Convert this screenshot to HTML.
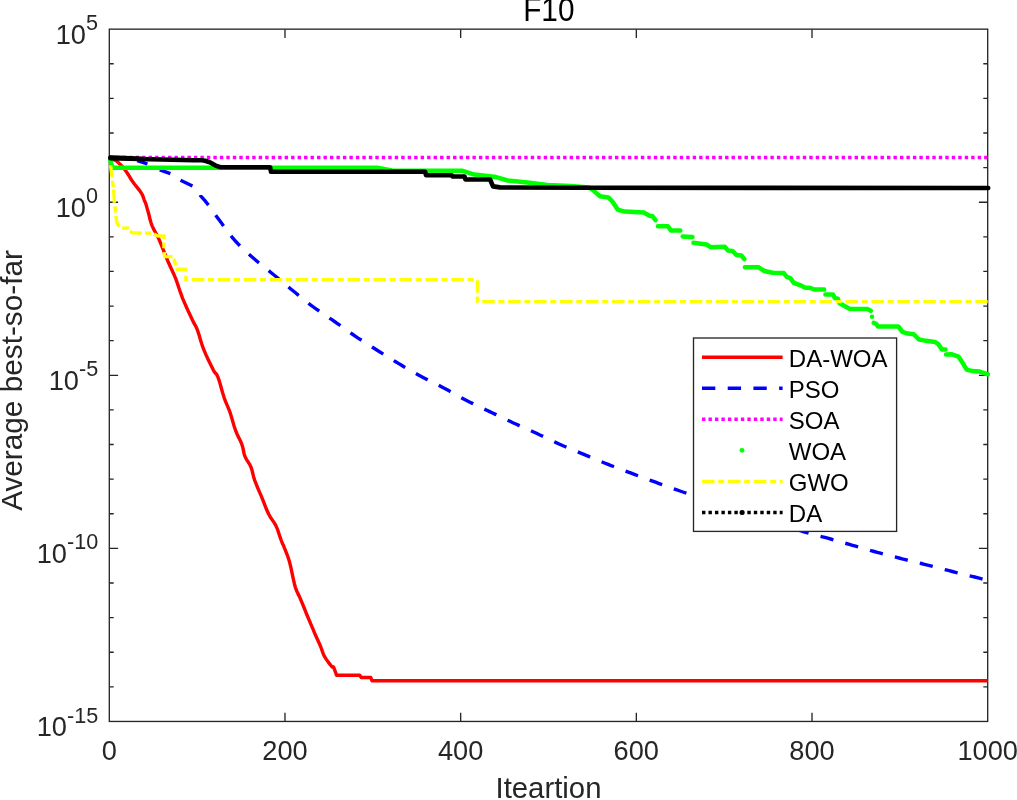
<!DOCTYPE html>
<html><head><meta charset="utf-8"><title>F10</title>
<style>html,body{margin:0;padding:0;background:#fff;}body{width:1017px;height:800px;position:relative;overflow:hidden;font-family:"Liberation Sans",sans-serif;}</style>
</head><body>
<svg width="1017" height="800" viewBox="0 0 1017 800" style="position:absolute;left:0;top:0">
<rect x="0" y="0" width="1017" height="800" fill="#fff"/>
<g stroke="#262626" stroke-width="1.33" fill="none">
<rect x="109.3" y="29.15" width="878.4000000000001" height="692.3000000000001"/>
<path d="M284.98 721.45v-8.8M284.98 29.15v8.8"/>
<path d="M460.66 721.45v-8.8M460.66 29.15v8.8"/>
<path d="M636.34 721.45v-8.8M636.34 29.15v8.8"/>
<path d="M812.02 721.45v-8.8M812.02 29.15v8.8"/>
<path d="M109.3 63.77h4.4M987.7 63.77h-4.4"/>
<path d="M109.3 98.38h4.4M987.7 98.38h-4.4"/>
<path d="M109.3 133.00h4.4M987.7 133.00h-4.4"/>
<path d="M109.3 167.61h4.4M987.7 167.61h-4.4"/>
<path d="M109.3 202.23h8.8M987.7 202.23h-8.8"/>
<path d="M109.3 236.84h4.4M987.7 236.84h-4.4"/>
<path d="M109.3 271.45h4.4M987.7 271.45h-4.4"/>
<path d="M109.3 306.07h4.4M987.7 306.07h-4.4"/>
<path d="M109.3 340.69h4.4M987.7 340.69h-4.4"/>
<path d="M109.3 375.30h8.8M987.7 375.30h-8.8"/>
<path d="M109.3 409.92h4.4M987.7 409.92h-4.4"/>
<path d="M109.3 444.53h4.4M987.7 444.53h-4.4"/>
<path d="M109.3 479.14h4.4M987.7 479.14h-4.4"/>
<path d="M109.3 513.76h4.4M987.7 513.76h-4.4"/>
<path d="M109.3 548.38h8.8M987.7 548.38h-8.8"/>
<path d="M109.3 582.99h4.4M987.7 582.99h-4.4"/>
<path d="M109.3 617.61h4.4M987.7 617.61h-4.4"/>
<path d="M109.3 652.22h4.4M987.7 652.22h-4.4"/>
<path d="M109.3 686.84h4.4M987.7 686.84h-4.4"/>
</g>
<g fill="none" stroke-linejoin="round">
<polyline points="109.2,157.5 109.9,157.8 110.8,158.2 111.9,158.7 113.0,159.3 114.0,159.8 115.1,160.2 116.3,160.9 117.7,162.0 119.5,163.7 121.5,165.7 123.5,168.1 125.5,170.5 127.2,173.0 128.9,175.7 130.6,178.5 132.4,181.3 134.6,184.3 137.1,187.4 139.5,190.4 141.3,193.0 142.5,195.1 143.2,196.9 143.7,198.5 144.2,200.0 144.7,201.3 145.2,202.3 145.7,203.4 146.2,205.0 146.8,207.1 147.5,209.7 148.3,212.3 149.0,215.0 149.6,217.5 150.2,220.1 151.0,222.7 152.0,225.6 153.4,228.6 155.1,231.8 157.0,235.2 159.0,239.3 161.1,244.3 163.3,249.9 165.6,255.7 167.8,261.0 169.9,265.7 171.9,270.0 173.8,274.2 175.7,278.7 177.4,283.4 179.0,288.2 180.7,293.2 182.6,298.3 185.0,303.9 187.6,309.8 190.2,315.3 192.4,320.0 194.0,323.1 195.1,325.2 196.2,327.1 197.4,330.0 198.8,334.1 200.2,338.9 201.8,344.1 203.6,349.2 205.9,354.6 208.5,360.2 211.1,365.5 213.2,369.8 214.7,372.3 215.8,373.5 216.8,374.7 218.0,377.2 219.5,381.6 221.0,387.0 222.6,392.7 224.2,397.8 225.7,401.8 227.2,405.4 228.7,408.9 230.1,412.6 231.4,416.8 232.7,421.3 234.0,425.8 235.4,430.0 237.0,433.9 238.8,437.7 240.6,441.3 242.0,444.7 242.9,447.9 243.5,450.9 244.1,453.7 245.0,456.5 246.3,459.1 247.9,461.6 249.5,464.1 250.9,466.9 251.9,469.9 252.7,473.0 253.5,476.4 254.6,480.1 256.2,484.2 258.1,488.8 260.1,493.4 262.0,497.8 263.7,502.1 265.3,506.3 266.9,510.3 268.6,514.0 270.4,517.2 272.4,520.1 274.3,522.9 276.0,525.9 277.5,529.4 278.8,533.2 280.0,536.9 281.1,540.0 282.0,542.3 282.7,544.0 283.5,545.6 284.3,547.7 285.4,550.4 286.6,553.3 287.8,556.5 288.8,559.5 289.6,562.3 290.3,565.1 291.0,568.0 291.7,571.3 292.5,575.1 293.4,579.4 294.4,583.7 295.4,587.5 296.6,590.7 297.8,593.4 299.2,596.1 300.6,599.3 302.2,603.2 304.0,607.5 305.7,611.8 307.2,615.5 308.5,618.6 309.6,621.2 310.6,623.6 311.6,625.9 312.4,627.8 313.1,629.4 313.8,631.1 314.7,633.3 316.0,636.3 317.6,639.8 319.2,643.3 320.6,646.5 321.6,649.1 322.4,651.5 323.2,653.7 324.3,656.1 326.0,658.9 328.1,661.9 330.2,664.6 331.7,666.5 332.5,667.2 332.9,667.0 333.2,666.7 333.6,667.2 334.3,668.9 335.2,671.3 336.0,673.7 336.6,675.3 359.7,675.3 361.2,677.5 370.8,677.5 372.0,680.8 987.7,680.8" stroke="#f00" stroke-width="3.4"/>
<clipPath id="cb"><rect x="196" y="0" width="900" height="800"/></clipPath>
<polyline clip-path="url(#cb)" points="109.2,157.5 110.2,157.5 111.4,157.6 113.0,157.6 114.7,157.7 116.5,157.8 118.3,157.9 120.2,158.0 122.0,158.2 123.8,158.4 125.7,158.7 127.7,158.9 129.8,159.2 131.8,159.6 133.7,159.9 135.5,160.3 137.2,160.6 138.7,160.9 140.1,161.3 141.3,161.6 142.5,162.0 143.6,162.3 144.8,162.8 146.1,163.3 147.4,163.8 148.9,164.4 150.4,165.2 152.0,166.0 153.6,166.9 155.2,167.7 156.8,168.6 158.3,169.3 159.8,170.0 161.2,170.6 162.6,171.0 163.9,171.4 165.2,171.8 166.5,172.1 167.8,172.5 169.1,173.0 170.4,173.6 171.7,174.3 172.9,175.1 174.1,176.0 175.4,176.9 176.6,177.8 177.9,178.7 179.2,179.6 180.5,180.4 181.9,181.1 183.5,181.8 185.1,182.5 186.7,183.1 188.2,183.8 189.8,184.5 191.2,185.2 192.5,186.1 193.7,187.1 194.7,188.1 195.6,189.2 196.5,190.3 197.4,191.5 198.2,192.7 199.1,193.8 200.0,195.0 200.9,196.1 201.8,197.1 202.7,198.1 203.6,199.2 204.5,200.2 205.5,201.4 206.6,202.8 207.8,204.3 209.1,206.0 210.4,207.9 211.9,209.9 213.4,212.0 214.9,214.2 216.6,216.5 218.3,218.8 220.0,221.1 221.8,223.5 223.7,226.1 225.7,228.7 227.7,231.4 229.8,234.1 231.8,236.8 234.0,239.4 236.1,241.8 238.3,244.1 240.4,246.3 242.7,248.5 244.9,250.6 247.2,252.7 249.5,254.7 251.8,256.8 254.1,258.8 256.4,260.8 258.8,262.8 261.2,264.7 263.6,266.7 266.1,268.6 268.5,270.5 270.9,272.5 273.4,274.5 275.9,276.5 278.3,278.6 280.8,280.7 283.3,282.7 285.8,284.8 288.3,286.9 290.8,289.0 293.3,291.0 295.8,293.0 298.3,295.1 300.8,297.1 303.3,299.1 305.8,301.1 308.3,303.1 310.8,305.1 313.4,307.0 316.0,308.9 318.6,310.7 321.2,312.5 323.9,314.3 326.6,316.1 329.2,317.9 331.9,319.7 334.5,321.5 337.1,323.3 339.8,325.2 342.4,327.1 345.0,329.0 347.6,330.8 350.2,332.7 352.9,334.5 355.5,336.3 358.1,338.1 360.8,339.8 363.5,341.5 366.1,343.2 368.8,344.9 371.4,346.6 374.1,348.3 376.8,350.0 379.5,351.7 382.2,353.4 384.8,355.1 387.5,356.8 390.2,358.4 392.9,360.1 395.7,361.8 398.4,363.4 401.2,365.0 403.9,366.7 406.7,368.3 409.5,369.9 412.3,371.5 415.1,373.1 418.0,374.7 420.8,376.2 423.6,377.7 426.5,379.2 429.4,380.7 432.3,382.1 435.2,383.6 438.1,385.0 440.9,386.5 443.8,388.0 446.7,389.5 449.5,391.1 452.4,392.7 455.2,394.3 458.0,395.9 460.9,397.5 463.7,399.0 466.6,400.5 469.5,402.0 472.4,403.4 475.2,404.8 478.1,406.1 481.0,407.5 483.9,408.9 486.8,410.2 489.7,411.6 492.6,413.0 495.5,414.4 498.4,415.8 501.3,417.2 504.2,418.6 507.1,420.0 510.0,421.3 512.9,422.7 515.8,424.0 518.8,425.4 521.7,426.7 524.7,428.0 527.7,429.3 530.6,430.6 533.6,432.0 536.5,433.3 539.4,434.7 542.3,436.0 545.2,437.4 548.0,438.8 550.9,440.2 553.8,441.5 556.7,442.9 559.6,444.2 562.5,445.5 565.4,446.7 568.4,448.0 571.3,449.2 574.3,450.4 577.2,451.6 580.2,452.9 583.2,454.1 586.2,455.4 589.2,456.6 592.3,457.9 595.3,459.2 598.4,460.5 601.4,461.7 604.5,463.0 607.5,464.2 610.5,465.4 613.5,466.5 616.4,467.7 619.4,468.8 622.4,469.9 625.3,471.0 628.3,472.1 631.3,473.2 634.3,474.3 637.3,475.5 640.4,476.6 643.4,477.7 646.5,478.8 649.5,480.0 652.6,481.1 655.6,482.2 658.5,483.3 661.3,484.3 664.1,485.3 666.8,486.3 669.7,487.3 672.8,488.5 676.2,489.7 680.0,491.0 684.3,492.5 688.9,494.1 693.9,495.8 699.0,497.6 704.3,499.4 709.6,501.3 714.9,503.1 720.0,504.8 725.0,506.5 729.9,508.1 734.8,509.8 739.7,511.4 744.6,513.0 749.7,514.7 754.8,516.3 760.0,518.0 765.5,519.8 771.4,521.6 777.4,523.6 783.5,525.5 789.4,527.4 795.0,529.1 800.2,530.7 804.8,532.1 808.7,533.2 812.0,534.2 814.9,534.9 817.5,535.6 819.9,536.2 822.4,536.8 824.9,537.4 827.7,538.2 830.7,539.0 833.8,539.9 836.9,540.8 840.0,541.7 843.1,542.6 846.3,543.5 849.4,544.4 852.5,545.3 855.6,546.2 858.7,547.1 861.8,548.0 864.9,548.9 868.0,549.8 871.1,550.7 874.2,551.5 877.3,552.4 880.4,553.2 883.5,554.1 886.6,554.9 889.7,555.6 892.7,556.4 895.9,557.2 899.0,558.0 902.1,558.8 905.3,559.6 908.4,560.4 911.6,561.2 914.9,561.9 918.1,562.7 921.3,563.5 924.4,564.3 927.6,565.1 930.7,565.9 933.8,566.7 936.9,567.5 940.0,568.3 943.1,569.1 946.1,569.9 949.2,570.7 952.3,571.5 955.5,572.3 958.8,573.1 962.2,574.0 965.6,574.8 968.8,575.6 971.9,576.3 974.7,577.0 977.1,577.6 979.2,578.1 981.0,578.6 982.6,579.0 984.0,579.3 985.1,579.6 986.1,579.9 987.0,580.1 987.7,580.3" stroke="#00f" stroke-width="3.4" stroke-dasharray="13.33 12.38" stroke-dashoffset="1.75"/>
<polyline points="109.2,157.5 121.5,158.2" stroke="#00f" stroke-width="3.4"/>
<polyline points="137.2,160.7 147.4,163.8" stroke="#00f" stroke-width="3.4"/>
<polyline points="159.8,169.9 170.4,173.7" stroke="#00f" stroke-width="3.4"/>
<polyline points="180.5,180.2 192.5,186.0" stroke="#00f" stroke-width="3.4"/>
<line x1="109.3" y1="157.45" x2="987.7" y2="157.45" stroke="#f0f" stroke-width="3.4" stroke-dasharray="3.4 3.077" stroke-dashoffset="6.03"/>
<polyline points="110.4,159.0 110.9,163.0 112.6,167.8 377.0,167.8 392.0,170.5 462.6,170.8 474.4,174.6 496.0,177.1 507.8,180.5 527.5,182.4 547.2,185.0 570.8,186.0 589.0,187.6 593.5,190.3 595.8,192.6 600.0,196.2 608.3,197.4 612.4,201.5 617.8,209.8 624.8,211.6 643.7,212.5 649.6,215.7 652.6,216.3 655.5,220.1" stroke="#0f0" stroke-width="4.5" stroke-linecap="round"/>
<polyline points="657.9,226.3 667.9,226.3 670.9,230.5 680.3,230.5" stroke="#0f0" stroke-width="4.5" stroke-linecap="round"/>
<polyline points="682.7,236.4 692.5,237.0" stroke="#0f0" stroke-width="4.5" stroke-linecap="round"/>
<polyline points="693.5,242.7 706.5,244.5 710.6,247.2 724.8,246.8 727.8,250.4 732.5,251.0 736.6,255.1 741.3,255.4 744.3,259.2" stroke="#0f0" stroke-width="4.5" stroke-linecap="round"/>
<polyline points="744.9,267.2 758.4,267.2 764.3,271.0 772.6,272.8 783.8,273.1 786.8,276.9 790.3,278.1 793.8,282.8 800.0,285.1 804.7,287.4 810.6,288.0 814.2,289.5 824.2,289.5" stroke="#0f0" stroke-width="4.5" stroke-linecap="round"/>
<polyline points="825.4,294.5 833.0,294.5 834.8,298.0 837.8,298.6 839.5,303.3 847.2,307.5 849.6,308.9 867.3,308.9 870.8,310.8" stroke="#0f0" stroke-width="4.5" stroke-linecap="round"/>
<polyline points="872.0,316.7 872.0,316.7" stroke="#0f0" stroke-width="4.5" stroke-linecap="round"/>
<polyline points="873.7,322.8 876.1,323.8 877.9,326.4 898.3,326.5 902.4,331.8 907.7,333.6 913.6,334.2 918.9,339.5 924.2,340.4 934.8,341.9 938.4,344.2 941.9,349.5 945.5,349.5" stroke="#0f0" stroke-width="4.5" stroke-linecap="round"/>
<polyline points="946.0,354.6 951.4,354.2 958.4,356.6 962.0,361.9 966.7,369.6 972.6,371.1 979.7,371.6 987.9,374.3" stroke="#0f0" stroke-width="4.5" stroke-linecap="round"/>
<polyline points="110.6,165.2 112.0,177.1" stroke="#ff0" stroke-width="3.4" stroke-linejoin="miter"/>
<polyline points="112.4,180.7 113.3,186.9" stroke="#ff0" stroke-width="3.4" stroke-linejoin="miter"/>
<polyline points="113.6,189.5 114.4,202.8" stroke="#ff0" stroke-width="3.4" stroke-linejoin="miter"/>
<polyline points="115.0,206.3 115.6,212.5" stroke="#ff0" stroke-width="3.4" stroke-linejoin="miter"/>
<polyline points="115.9,216.1 116.8,222.1 117.9,224.6 119.5,226.5" stroke="#ff0" stroke-width="3.4" stroke-linejoin="miter"/>
<polyline points="122.1,228.2 128.8,227.9" stroke="#ff0" stroke-width="3.4" stroke-linejoin="miter"/>
<polyline points="130.1,230.9 132.3,232.7 142.0,233.1" stroke="#ff0" stroke-width="3.4" stroke-linejoin="miter"/>
<polyline points="145.2,233.1 150.9,233.1" stroke="#ff0" stroke-width="3.4" stroke-linejoin="miter"/>
<polyline points="154.0,234.0 157.1,235.8 164.0,236.2 164.0,238.9" stroke="#ff0" stroke-width="3.4" stroke-linejoin="miter"/>
<polyline points="163.9,242.4 163.9,248.2" stroke="#ff0" stroke-width="3.4" stroke-linejoin="miter"/>
<polyline points="164.2,252.2 164.6,256.6 172.6,256.6" stroke="#ff0" stroke-width="3.4" stroke-linejoin="miter"/>
<polyline points="173.9,258.8 175.7,265.0" stroke="#ff0" stroke-width="3.4" stroke-linejoin="miter"/>
<polyline points="176.4,268.2 177.0,269.2 185.7,269.4 185.7,271.6" stroke="#ff0" stroke-width="3.4" stroke-linejoin="miter"/>
<polyline points="185.9,275.8 185.9,279.6 477.5,279.6" stroke="#ff0" stroke-width="3.4" stroke-dasharray="12.5 3.75 5.95 3.75" stroke-dashoffset="16.25" stroke-linejoin="miter"/>
<polyline points="477.5,279.6 477.5,301.6 987.7,301.6" stroke="#ff0" stroke-width="3.4" stroke-dasharray="12.5 3.75 5.95 3.75" stroke-dashoffset="25.2" stroke-linejoin="miter"/>
<polyline points="110.4,158.1 150.0,159.3 194.0,160.2 201.8,160.2 205.0,160.8 209.7,162.2 215.6,165.6 220.5,167.2 270.1,167.3 271.0,171.8 425.2,171.8 426.0,175.2 451.8,175.2 452.5,176.5 464.6,176.5 465.4,179.5 490.1,179.5 493.0,186.4 500.0,187.4 580.0,187.8 988.2,188.0" stroke="#000" stroke-width="4.6" stroke-linecap="round"/>
<polyline points="110.4,157.5 125,158 142,158.9" fill="none" stroke="#000" stroke-width="4.4" stroke-linecap="round"/>
</g>
<rect x="693.5" y="338.0" width="203.10000000000002" height="193.39999999999998" fill="#fff" stroke="#262626" stroke-width="1.33"/>
<g fill="none">
<line x1="702" y1="357.2" x2="782.6" y2="357.2" stroke="#f00" stroke-width="3.4"/>
<line x1="702" y1="388.25" x2="782.6" y2="388.25" stroke="#00f" stroke-width="3.4" stroke-dasharray="13.33 12.38"/>
<line x1="702" y1="419.3" x2="782.6" y2="419.3" stroke="#f0f" stroke-width="3.4" stroke-dasharray="3.4 3.077"/>
<circle cx="742" cy="450.35" r="2.4" fill="#0f0"/>
<line x1="702" y1="481.4" x2="782.6" y2="481.4" stroke="#ff0" stroke-width="3.4" stroke-dasharray="12.5 3.75 5.95 3.75"/>
<line x1="702" y1="512.45" x2="782.6" y2="512.45" stroke="#000" stroke-width="3.4" stroke-dasharray="3.4 3.077"/>
<circle cx="742" cy="512.45" r="2.5" fill="#000"/>
</g>
<g font-family="'Liberation Sans', sans-serif" fill="#000" font-size="24">
<text x="788.8" y="366.7">DA-WOA</text>
<text x="788.8" y="397.8">PSO</text>
<text x="788.8" y="428.8">SOA</text>
<text x="788.8" y="459.9">WOA</text>
<text x="788.8" y="490.9">GWO</text>
<text x="788.8" y="522.0">DA</text>
</g>
<g font-family="'Liberation Sans', sans-serif" fill="#262626" font-size="27.2">
<text x="109.3" y="759.6" text-anchor="middle">0</text>
<text x="285.0" y="759.6" text-anchor="middle">200</text>
<text x="460.7" y="759.6" text-anchor="middle">400</text>
<text x="636.3" y="759.6" text-anchor="middle">600</text>
<text x="812.0" y="759.6" text-anchor="middle">800</text>
<text x="987.7" y="759.6" text-anchor="middle">1000</text>
<text x="86.0" y="43.8" text-anchor="end">10</text><text x="86.1" y="30.1" font-size="21.6">5</text>
<text x="86.0" y="216.9" text-anchor="end">10</text><text x="86.1" y="203.2" font-size="21.6">0</text>
<text x="78.9" y="390.0" text-anchor="end">10</text><text x="79.0" y="376.3" font-size="21.6">-5</text>
<text x="67.0" y="563.1" text-anchor="end">10</text><text x="67.1" y="549.4" font-size="21.6">-10</text>
<text x="67.0" y="736.2" text-anchor="end">10</text><text x="67.1" y="722.5" font-size="21.6">-15</text>
</g>
<text font-family="'Liberation Sans', sans-serif" font-size="29.8" fill="#000" transform="translate(548.8,21.1) scale(1,1.1)" text-anchor="middle">F10</text>
<text font-family="'Liberation Sans', sans-serif" font-size="29.33" fill="#262626" x="548.5" y="798.2" text-anchor="middle">Iteartion</text>
<text font-family="'Liberation Sans', sans-serif" font-size="29.75" fill="#262626" transform="translate(21.9,380.5) rotate(-90)" text-anchor="middle">Average best-so-far</text>
</svg>
</body></html>
